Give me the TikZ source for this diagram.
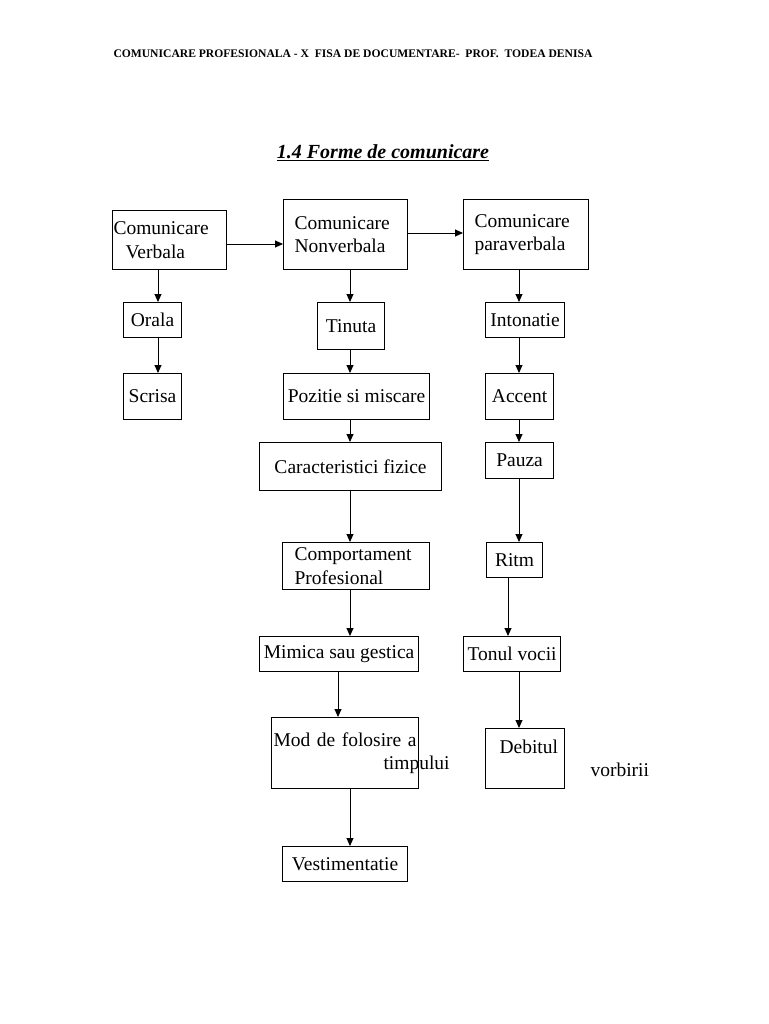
\documentclass[tikz,border=0pt]{standalone}
\usepackage{fontspec}
\setmainfont{Liberation Serif}
\usetikzlibrary{arrows.meta}

\begin{document}
\begin{tikzpicture}[x=1pt,y=-1pt,
  box/.style={draw, line width=1.1pt, anchor=north west, inner sep=0pt, align=center,
    font=\fontsize{19.5}{23.5}\selectfont},
  arr/.style={line width=0.9pt, -{Triangle[length=8pt,width=7pt]}}]
\useasboundingbox (0,0) rectangle (768,1024);
\node[anchor=base, font=\bfseries\fontsize{11.6}{14}\selectfont] (header) at (353,58)
  {COMUNICARE PROFESIONALA - X\ \ FISA DE DOCUMENTARE-\ \ PROF.\ \ TODEA DENISA};
\node[anchor=base, font=\bfseries\itshape\fontsize{20}{22}\selectfont] (title) at (383,159)
  {\underline{1.4 Forme de comunicare}};
% first row
\node[box, align=left, inner xsep=1pt, text width=112pt, minimum height=59pt] (verbala) at (112,210)
  {Comunicare\\\hspace*{12pt}Verbala};
\node[box, align=left, inner xsep=11pt, text width=102pt, minimum height=70pt] (nonverbala) at (283,199)
  {Comunicare\\Nonverbala};
\node[box, align=left, inner xsep=11pt, text width=103pt, minimum height=70pt] (paraverbala) at (463,199)
  {Comunicare\\paraverbala};
% verbala
\node[box, minimum width=58pt, minimum height=35pt] (orala) at (123,302) {Orala};
\node[box, minimum width=58pt, minimum height=46pt] (scrisa) at (123,373) {Scrisa};
% nonverbala
\node[box, minimum width=67pt, minimum height=47pt] (tinuta) at (317,302) {Tinuta};
\node[box, minimum width=146pt, minimum height=46pt] (pozitie) at (283,373) {Pozitie si miscare};
\node[box, minimum width=182pt, minimum height=48pt] (caract) at (259,442) {Caracteristici fizice};
\node[box, align=left, inner xsep=12pt, text width=123pt, minimum height=47pt] (comport) at (282,542)
  {Comportament\\Profesional};
\node[box, minimum width=159pt, minimum height=35pt] (mimica) at (259,636) {Mimica sau gestica};
\node[box, align=left, inner xsep=2pt, text width=143pt, minimum height=71pt] (mod) at (271,717)
  {Mod de folosire a\\\hspace*{110pt}\rlap{timpului}};
\node[box, minimum width=125pt, minimum height=35pt] (vestim) at (282,846) {Vestimentatie};
% paraverbala
\node[box, minimum width=79pt, minimum height=35pt] (intonatie) at (485,302) {Intonatie};
\node[box, minimum width=68pt, minimum height=46pt] (accent) at (485,373) {Accent};
\node[box, minimum width=68pt, minimum height=36pt] (pauza) at (485,442) {Pauza};
\node[box, minimum width=56pt, minimum height=35pt] (ritm) at (486,542) {Ritm};
\node[box, minimum width=97pt, minimum height=35pt] (tonul) at (463,636) {Tonul vocii};
\node[box, align=left, inner xsep=14pt, text width=51pt, minimum height=60pt] (debitul) at (485,728)
  {Debitul\\\hspace*{91pt}\rlap{vorbirii}};
% arrows
\draw[arr] (verbala.east |- 0,244) -- (nonverbala.west |- 0,244);
\draw[arr] (nonverbala.east |- 0,233) -- (paraverbala.west |- 0,233);
\draw[arr] (verbala.south -| 158,0) -- (orala.north -| 158,0);
\draw[arr] (orala.south -| 158,0) -- (scrisa.north -| 158,0);
\draw[arr] (nonverbala.south -| 350,0) -- (tinuta.north -| 350,0);
\draw[arr] (tinuta.south -| 350,0) -- (pozitie.north -| 350,0);
\draw[arr] (pozitie.south -| 350,0) -- (caract.north -| 350,0);
\draw[arr] (caract.south -| 350,0) -- (comport.north -| 350,0);
\draw[arr] (comport.south -| 350,0) -- (mimica.north -| 350,0);
\draw[arr] (mimica.south -| 338,0) -- (mod.north -| 338,0);
\draw[arr] (mod.south -| 350,0) -- (vestim.north -| 350,0);
\draw[arr] (paraverbala.south -| 519,0) -- (intonatie.north -| 519,0);
\draw[arr] (intonatie.south -| 519,0) -- (accent.north -| 519,0);
\draw[arr] (accent.south -| 519,0) -- (pauza.north -| 519,0);
\draw[arr] (pauza.south -| 519,0) -- (ritm.north -| 519,0);
\draw[arr] (ritm.south -| 508,0) -- (tonul.north -| 508,0);
\draw[arr] (tonul.south -| 519,0) -- (debitul.north -| 519,0);
\end{tikzpicture}
\end{document}
